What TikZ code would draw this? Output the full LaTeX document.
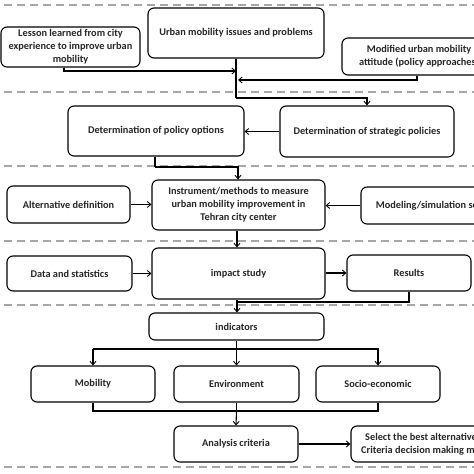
\documentclass[tikz,border=0pt]{standalone}
\usepackage{fontspec}
\setmainfont{Carlito}
\usetikzlibrary{arrows.meta}
\begin{document}
\begin{tikzpicture}[x=1pt,y=-1pt,
  box/.style={draw=black,line width=1.1pt,rounded corners=6pt,align=center,
    font=\bfseries\fontsize{10.3}{13}\selectfont,text=black!85,inner sep=0pt},
  sep/.style={draw=black!35,line width=1.3pt,dash pattern=on 8pt off 5pt},
  conn/.style={draw=black,line width=1.1pt},
  arr/.style={conn,-{Straight Barb[length=3.5pt,width=6pt,line width=0.9pt]}},
  lbl/.style={font=\bfseries\fontsize{10.3}{13}\selectfont,text=black!85,align=left,inner sep=0pt}]
\useasboundingbox (0,0) rectangle (474,474);
\clip (0,0) rectangle (474,474);
\fill[white] (0,0) rectangle (474,474);
% separators
\foreach \yy in {5,92,166,241,305,467} \draw[sep] (4,\yy) -- (474,\yy);
% boxes
\node[box,minimum width=139pt,minimum height=40pt] (lesson) at (70.5,47) {Lesson learned from city\\experience to improve urban\\mobility};
\node[box,minimum width=176pt,minimum height=50pt] (urban) at (236,33) {Urban mobility issues and problems};
\node[box,minimum width=154pt,minimum height=37pt] (modified) at (419,56.5) {Modified urban mobility\\attitude (policy approaches)};
\node[box,minimum width=176pt,minimum height=50pt] (policy) at (156,131) {Determination of policy options};
\node[box,minimum width=174pt,minimum height=51pt] (strategic) at (367,131.5) {Determination of strategic policies};
\node[box,minimum width=123pt,minimum height=37pt] (alt) at (68.5,204.5) {Alternative definition};
\node[box,minimum width=160pt,minimum height=37pt] (model) at (441,205.5) {Modeling/simulation software};
\node[box,minimum width=173pt,minimum height=50pt] (instr) at (238.5,205) {Instrument/methods to measure\\urban mobility improvement in\\Tehran city center};
\node[box,minimum width=125pt,minimum height=35pt] (data) at (69.5,273.5) {Data and statistics};
\node[box,minimum width=173pt,minimum height=51pt] (impact) at (238.5,273.5) {impact study};
\node[box,minimum width=124pt,minimum height=36pt] (results) at (409,273) {Results};
\node[box,minimum width=175pt,minimum height=27pt] (ind) at (236.5,326.5) {indicators};
\node[box,minimum width=124pt,minimum height=36pt] (mob) at (93,384) {Mobility};
\node[box,minimum width=125pt,minimum height=36pt] (env) at (236.5,384) {Environment};
\node[box,minimum width=124pt,minimum height=36pt] (socio) at (378,384) {Socio-economic};
\node[box,minimum width=124pt,minimum height=36pt] (anal) at (236,444) {Analysis criteria};
\node[box,minimum width=170pt,minimum height=36pt] (select) at (436,444) {};
\node[lbl,anchor=west] (selecttxt) at (361,444) {\hspace*{4pt}Select the best alternative\\Criteria decision making methods};
% junction coordinates
\coordinate (j1) at (236,71);
\coordinate (j2) at (236,98);
\coordinate (j3) at (238,80);
\coordinate (j4) at (155,167);
\coordinate (j5) at (237,302);
\coordinate (j6) at (93,349);
\coordinate (j7) at (236.5,349);
\coordinate (j8) at (236.5,411);
% connectors
\draw[arr] (lesson.south -| 64,0) |- (j1);
\draw[conn] (urban.south) -- (j2);
\draw[arr] (j2) -| (strategic.north);
\draw[arr] (modified.south -| 417,0) |- (j3);
\draw[arr] (strategic.west) -- (policy.east |- strategic.west);
\draw[conn] (policy.south -| j4) -- (j4);
\draw[arr] (j4) -| (instr.north -| 238,0);
\draw[arr] (alt.east) -- (instr.west |- alt.east);
\draw[arr] (model.west) -- (instr.east |- model.west);
\draw[arr] (instr.south -| 237,0) -- (impact.north -| 237,0);
\draw[arr] (data.east) -- (impact.west |- data.east);
\draw[arr] (impact.east |- results.west) -- (results.west);
\draw[conn] (results.south) |- (j5);
\draw[arr] (impact.south -| j5) -- (ind.north -| j5);
\draw[conn] (ind.south) -- (j7);
\draw[arr] (j6) -- (mob.north);
\draw[arr] (j7) -- (env.north);
\draw[arr] (j6) -| (socio.north);
\draw[conn] (mob.south) |- (j8);
\draw[conn] (socio.south) |- (j8);
\draw[conn] (env.south) -- (j8);
\draw[arr] (j8) -- (anal.north);
\draw[arr] (anal.east) -- (select.west);
\end{tikzpicture}
\end{document}
